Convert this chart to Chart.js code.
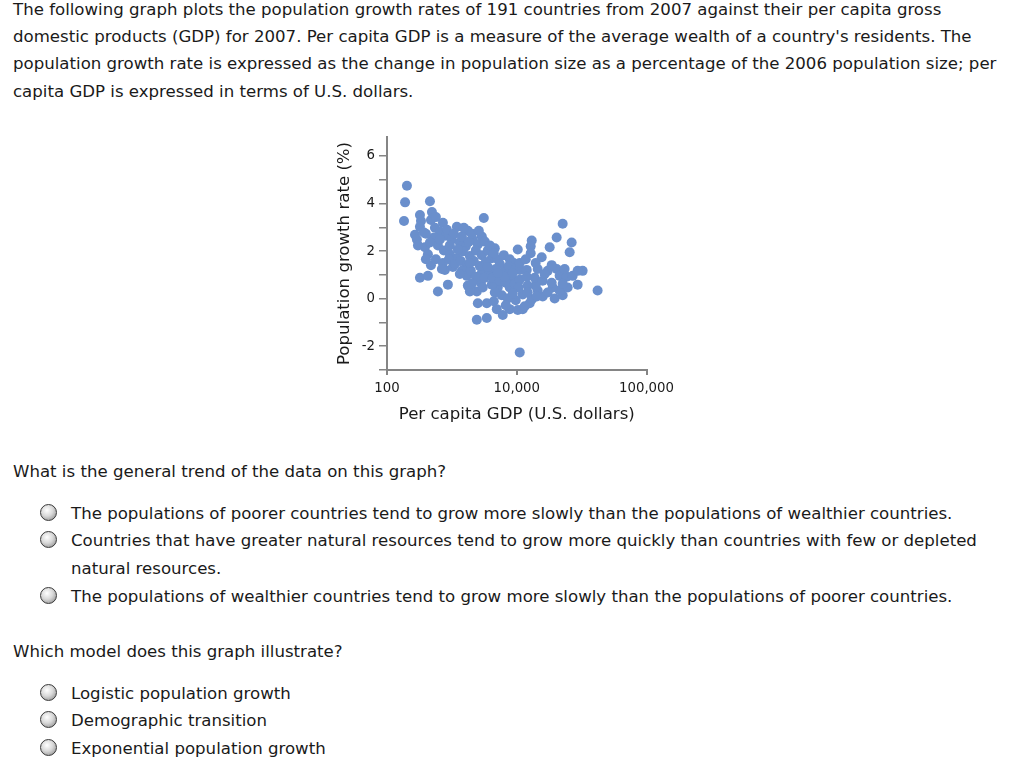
<!DOCTYPE html>
<html>
<head>
<meta charset="utf-8">
<script src="https://cdn.jsdelivr.net/npm/chart.js@4.4.0/dist/chart.umd.min.js"></script>
<style>
  body { margin: 0; background: #fff; font-family: "DejaVu Sans", Verdana, sans-serif; font-size: 16.6px; color: #1a1a1a; }
  .ln { position: absolute; left: 13px; white-space: nowrap; line-height: 20px; }
  .opt { position: absolute; left: 71px; white-space: nowrap; line-height: 20px; }
  .radio { position: absolute; left: 40px; width: 15px; height: 15px; border-radius: 50%;
           border: 1.5px solid #3a3a3a; background: radial-gradient(circle at 40% 35%, #ffffff 0%, #d8d8d8 45%, #7f7f7f 100%); }
  #wrap { position: absolute; left: 330px; top: 125px; width: 350px; height: 300px; }
</style>
</head>
<body>
<div class="ln" style="top:0px">The following graph plots the population growth rates of 191 countries from 2007 against their per capita gross</div>
<div class="ln" style="top:27px">domestic products (GDP) for 2007. Per capita GDP is a measure of the average wealth of a country's residents. The</div>
<div class="ln" style="top:54px">population growth rate is expressed as the change in population size as a percentage of the 2006 population size; per</div>
<div class="ln" style="top:82px">capita GDP is expressed in terms of U.S. dollars.</div>

<div id="wrap"><canvas id="myChart" width="350" height="300"></canvas></div>

<div class="ln" style="top:462px">What is the general trend of the data on this graph?</div>
<div class="radio" style="top:504px"></div><div class="opt" style="top:504px">The populations of poorer countries tend to grow more slowly than the populations of wealthier countries.</div>
<div class="radio" style="top:531px"></div><div class="opt" style="top:531px">Countries that have greater natural resources tend to grow more quickly than countries with few or depleted</div>
<div class="opt" style="top:559px">natural resources.</div>
<div class="radio" style="top:587px"></div><div class="opt" style="top:587px">The populations of wealthier countries tend to grow more slowly than the populations of poorer countries.</div>

<div class="ln" style="top:642px">Which model does this graph illustrate?</div>
<div class="radio" style="top:684px"></div><div class="opt" style="top:684px">Logistic population growth</div>
<div class="radio" style="top:711px"></div><div class="opt" style="top:711px">Demographic transition</div>
<div class="radio" style="top:739px"></div><div class="opt" style="top:739px">Exponential population growth</div>

<script>
// per capita GDP (US$) and population growth (%)
var gdp = [203,190,183,459,3106,22590,20309,26490,13042,12810,17940,10180,12810,25570,15570,14500,20309,32190,41980,10546,
  609,322,427,868,2424,3455,2512,3455,4924,6090,7800,10180,11120,12590,11520,15850,19600,22590,21410,24680,
  18930,29460,14500,17320,13990,12150,5878,5100,7800,8377,6540,10546,11937,17320,21410,24245,26970,11120,13042,9650,
  2424,4590,1762,2793,4125,2894,3840,1701,780,1036,322,334,493,476,322,727,1194,1762,270,289,
  384,427,476,2894,4590,4125,548,654,809,1000,1327,1641,2104,2512,3218,528,398,609,753,931,
  1194,1476,1894,2339,2894,3580,567,727,899,1112,1375,1701,2180,2697,3335,5100,6310,7800,8990,5480,
  4750,7530,9650,1425,1960,2339,3218,4270,5480,6770,9310,10546,6540,5100,654,459,371,567,838,1073,
  1425,1827,3840,1237,2031,2603,1530,702,10546,11730,8680,10360,7270,8680,4430,6770,13750,15850,18587,22590,
  16420,12150,14251,1327,3580,2997,1894,2031,11937,13990,18587,23390,29460,300,398,931,1894,4430];
var growth = [4.75,4.05,3.27,4.10,3.39,3.15,2.57,2.36,2.45,2.20,2.16,2.07,1.91,1.95,1.74,1.25,1.25,1.17,0.34,-2.26,
  0.30,0.88,0.96,0.59,-0.89,-0.81,-0.19,-0.19,-0.44,-0.69,-0.44,-0.48,-0.44,-0.19,-0.32,0.09,0.01,0.14,0.34,0.47,
  0.47,0.59,0.34,0.26,0.55,0.55,0.14,0.47,0.47,0.88,1.17,1.21,1.21,1.17,0.96,0.92,0.96,0.18,-0.03,-0.07,
  0.30,0.26,0.55,0.67,0.59,1.08,1.17,0.96,1.21,1.33,3.52,3.27,3.64,3.31,3.02,3.19,3.02,2.86,2.69,2.49,
  2.16,1.87,1.41,2.61,2.12,1.70,2.98,2.82,2.65,2.49,2.36,2.20,2.49,2.28,2.40,2.57,2.73,2.24,2.03,1.87,
  1.70,1.99,1.79,2.03,1.83,2.03,1.66,1.50,1.66,1.46,1.58,1.41,1.58,1.37,1.54,1.66,1.83,1.66,1.50,1.46,
  1.25,1.37,1.25,1.17,1.17,0.92,0.88,0.88,0.75,0.67,0.63,0.80,0.92,1.08,2.49,2.36,2.78,3.43,2.90,2.73,
  2.61,2.40,2.24,2.07,2.73,2.86,2.98,1.25,1.50,1.66,1.08,0.47,0.01,0.22,-0.11,-0.28,0.88,0.75,0.67,0.63,
  1.04,0.26,0.09,1.04,1.33,0.47,0.30,0.63,0.92,1.50,1.41,1.25,1.17,2.24,1.66,2.24,1.50,1.91];
var xTickLabels = ['100', '10,000', '100,000'];

// the x axis in the picture puts 100, 10,000 and 100,000 at equal spacing
function xPos(g) {
  return g <= 10000 ? Math.log10(g / 100) / 2 : 1 + Math.log10(g / 10000);
}

var pts = [];
for (var i = 0; i < gdp.length; i++) pts.push({x: xPos(gdp[i]), y: growth[i]});

var axisCol = '#858585';
var ctx = document.getElementById('myChart').getContext('2d');
var myChart = new Chart(ctx, {
  type: 'scatter',
  data: {
    datasets: [{
      data: pts,
      backgroundColor: '#6a8fcc',
      borderWidth: 0,
      pointRadius: 5
    }]
  },
  options: {
    responsive: false,
    animation: false,
    layout: { padding: { top: 8, right: 32, left: 0, bottom: 0 } },
    plugins: { legend: { display: false }, tooltip: { enabled: false } },
    scales: {
      x: {
        type: 'linear', min: 0, max: 2,
        afterBuildTicks: function (s) { s.ticks = [{value: 0}, {value: 1}, {value: 2}]; },
        afterFit: function (s) { s.height = 55; },
        ticks: {
          callback: function (v) { return xTickLabels[Math.round(v)]; },
          font: { family: 'DejaVu Sans', size: 13.3 }, color: '#1a1a1a', padding: 6, maxRotation: 0
        },
        grid: { display: true, drawOnChartArea: false, tickLength: 5, color: axisCol, lineWidth: 2 },
        border: { color: axisCol, width: 2 },
        title: { display: true, text: 'Per capita GDP (U.S. dollars)', font: { family: 'DejaVu Sans', size: 16.6 }, color: '#1a1a1a', padding: { top: 6, bottom: 0 } }
      },
      y: {
        min: -3, max: 6.8,
        afterBuildTicks: function (s) {
          var t = [];
          for (var v = -3; v <= 6; v++) t.push({value: v});
          s.ticks = t;
        },
        afterFit: function (s) { s.width = 57; },
        ticks: {
          callback: function (v) { return v % 2 === 0 ? String(v) : ''; },
          font: { family: 'DejaVu Sans', size: 13.3 }, color: '#1a1a1a', padding: 4
        },
        grid: { display: true, drawOnChartArea: false, tickLength: 8, color: axisCol, lineWidth: 1.5 },
        border: { color: axisCol, width: 2 },
        title: { display: true, text: 'Population growth rate (%)', font: { family: 'DejaVu Sans', size: 16.6 }, color: '#1a1a1a', padding: { top: 5, bottom: 4 } }
      }
    }
  }
});
</script>
</body>
</html>
